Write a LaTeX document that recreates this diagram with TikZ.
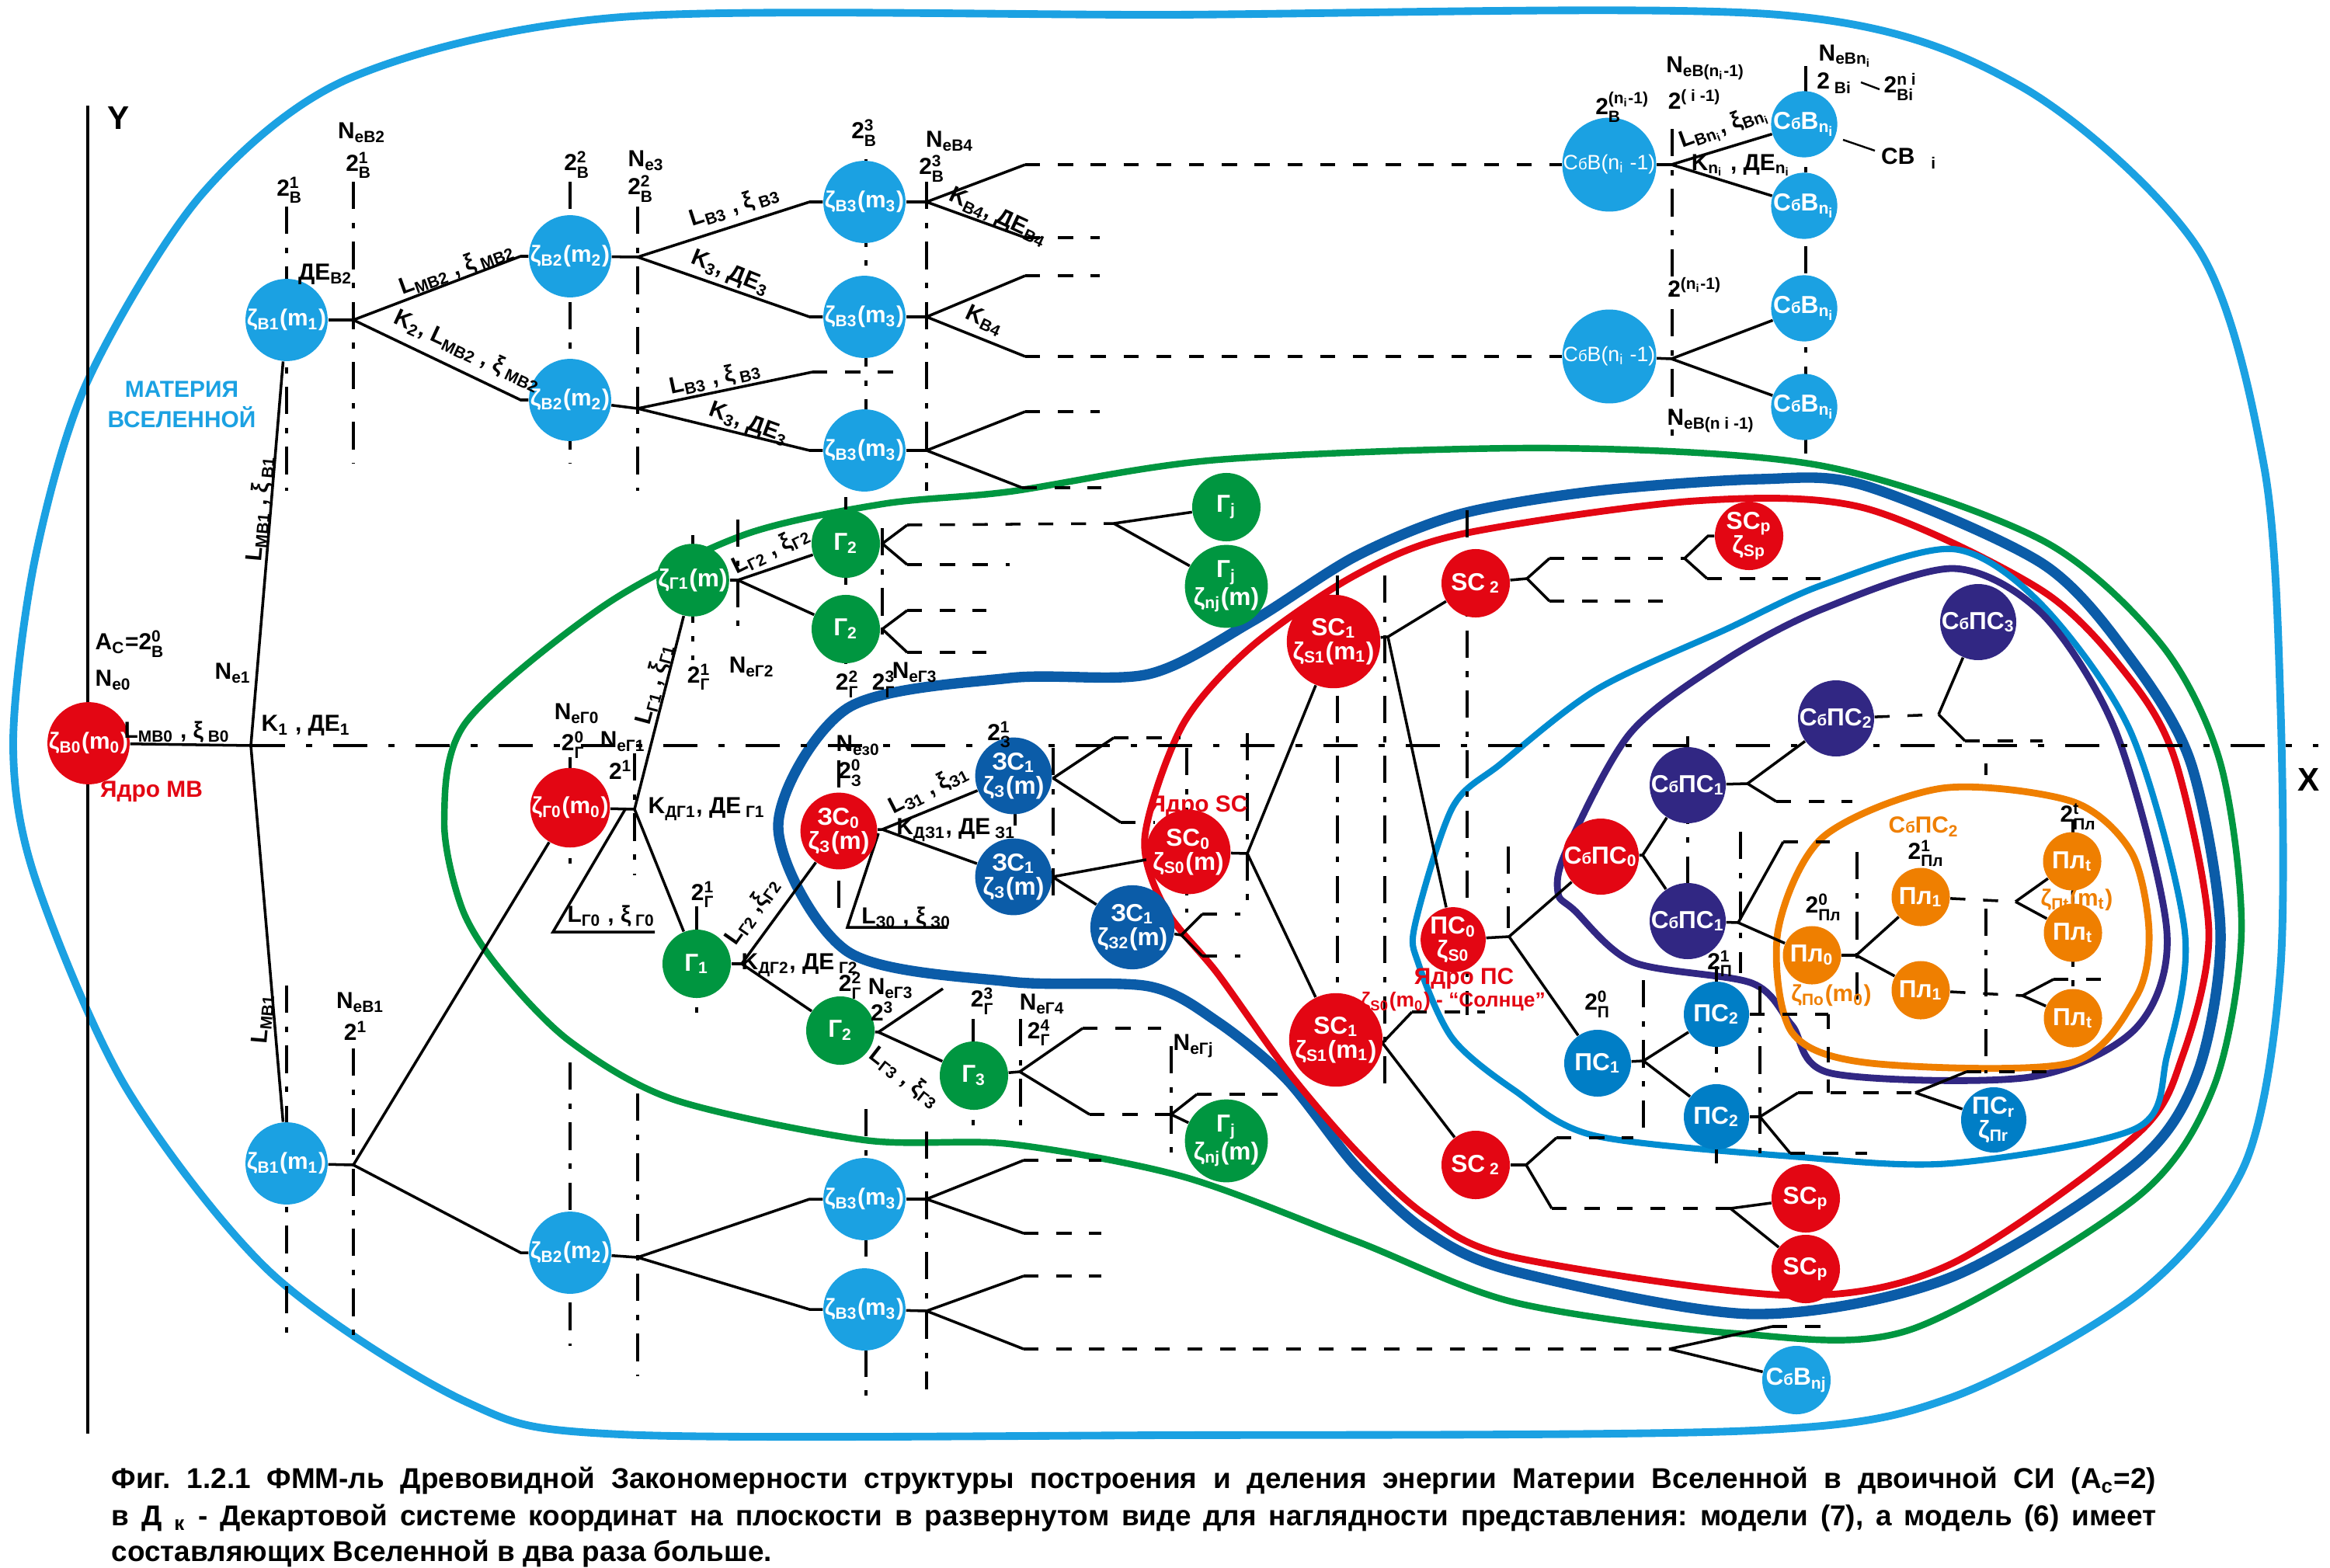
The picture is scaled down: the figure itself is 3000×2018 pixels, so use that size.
\documentclass[tikz,border=0pt]{standalone}
\usepackage{fontspec}
\setmainfont{Liberation Sans}
\usepackage{amsmath}
\usetikzlibrary{calc}
\definecolor{cB}{RGB}{27,161,226}
\definecolor{cR}{RGB}{227,6,19}
\definecolor{cG}{RGB}{0,150,64}
\definecolor{cD}{RGB}{11,92,168}
\definecolor{cM}{RGB}{0,126,198}
\definecolor{cP}{RGB}{49,39,131}
\definecolor{cO}{RGB}{239,127,0}
\definecolor{cL}{RGB}{0,140,208}
\newcommand{\Ls}[1]{\ensuremath{_{\text{#1}}}}
\newcommand{\Us}[1]{\ensuremath{^{\text{#1}}}}
\newcommand{\LU}[2]{\ensuremath{^{\text{#1}}_{\text{#2}}}}
\newcommand{\sm}[1]{{\fontsize{5.8}{6}\selectfont #1}}
\pgfdeclarelayer{curves}
\pgfdeclarelayer{lines}
\pgfsetlayers{curves,lines,main}
\tikzset{
  lab/.style={inner sep=0pt, font=\fontsize{8.5}{10}\selectfont\bfseries},
  cn/.style={circle, inner sep=0pt, text=white, align=center, font=\fontsize{9}{8.8}\selectfont\bfseries},
  big/.style={cn, minimum size=1cm, font=\fontsize{8.5}{8.5}\selectfont\bfseries},
  med/.style={cn, minimum size=0.88cm},
  sml/.style={cn, minimum size=0.75cm},
  ln/.style={line width=1pt},
  dsh/.style={line width=1pt, dash pattern=on 5.5pt off 6.5pt},
  vdd/.style={line width=1.1pt, dash pattern=on 10pt off 5pt on 2pt off 5pt},
  xax/.style={line width=1.1pt, dash pattern=on 12.5pt off 7.7pt on 2.3pt off 7.7pt},
  capt/.style={anchor=west, inner sep=0pt, font=\fontsize{10.5}{12}\selectfont\bfseries},
}
\begin{document}
\begin{tikzpicture}[x=0.01cm,y=-0.01cm]
\useasboundingbox (0,0) rectangle (3000,2018);
% ---------------- coordinates ----------------
\coordinate (J0) at (323,960);
\coordinate (XE) at (2985,960);
\coordinate (YT) at (113,136);
\coordinate (YB) at (113,1846);
\coordinate (J1) at (455,412);
\coordinate (J2a) at (821,331);
\coordinate (J2b) at (821,526);
\coordinate (E2b) at (1046,479);
\coordinate (J3a) at (1193,260);
\coordinate (J3b) at (1193,408);
\coordinate (J3c) at (1193,580);
\coordinate (E3a1) at (1320,212);
\coordinate (E3a2) at (1320,306);
\coordinate (E3b1) at (1320,355);
\coordinate (E3b2) at (1320,459);
\coordinate (E3c1) at (1320,530);
\coordinate (E3c2) at (1316,628);
\coordinate (J4) at (455,1500);
\coordinate (J5) at (821,1619);
\coordinate (J6) at (1193,1544);
\coordinate (J7) at (1193,1688);
\coordinate (E6a) at (1318,1494);
\coordinate (E6b) at (1318,1588);
\coordinate (E7a) at (1318,1643);
\coordinate (E7b) at (1318,1737);
\coordinate (J8) at (2149,1737);
\coordinate (E8) at (2282,1708);
\coordinate (JG0) at (817,1042);
\coordinate (T0a) at (805,1042);
\coordinate (T0b) at (712,1200);
\coordinate (T0c) at (843,1200);
\coordinate (JG1) at (950,747);
\coordinate (JG2a) at (1136,700);
\coordinate (JG2b) at (1136,810);
\coordinate (EGa1) at (1168,676);
\coordinate (EGa2) at (1168,727);
\coordinate (EGb1) at (1168,786);
\coordinate (EGb2) at (1168,840);
\coordinate (JGja) at (1434,674);
\coordinate (JG1b) at (955,1241);
\coordinate (JG2c) at (1131,1329);
\coordinate (EG2c) at (1214,1273);
\coordinate (JG3) at (1313,1380);
\coordinate (EG3a) at (1394,1324);
\coordinate (EG3b) at (1403,1435);
\coordinate (JGj) at (1508,1435);
\coordinate (EGj) at (1541,1409);
\coordinate (JZ0) at (1136,1068);
\coordinate (TZa) at (1131,1073);
\coordinate (TZb) at (1091,1194);
\coordinate (TZc) at (1220,1194);
\coordinate (JZ1) at (1356,1002);
\coordinate (EZ1a) at (1434,950);
\coordinate (EZ1b) at (1443,1059);
\coordinate (JZ2) at (1521,1204);
\coordinate (EZ2a) at (1548,1177);
\coordinate (EZ2b) at (1548,1231);
\coordinate (JS0) at (1606,1099);
\coordinate (JS1) at (1787,820);
\coordinate (JS2) at (1966,745);
\coordinate (ES2a) at (1995,719);
\coordinate (ES2b) at (1995,774);
\coordinate (JSp) at (2169,719);
\coordinate (ESp) at (2198,745);
\coordinate (JS1l) at (1780,1343);
\coordinate (ES1l) at (1818,1303);
\coordinate (JS2l) at (1965,1500);
\coordinate (ES2la) at (2004,1465);
\coordinate (ES2lb) at (1998,1556);
\coordinate (JSpp) at (2228,1556);
\coordinate (JP0) at (1943,1206);
\coordinate (JP1) at (2116,1366);
\coordinate (JP2) at (2266,1438);
\coordinate (EP2a) at (2354,1306);
\coordinate (EP2v) at (2354,1407);
\coordinate (EP2b) at (2315,1407);
\coordinate (EP2c) at (2305,1485);
\coordinate (JPr) at (2466,1407);
\coordinate (EPr) at (2532,1380);
\coordinate (JC0) at (2115,1101);
\coordinate (JC1) at (2250,1009);
\coordinate (EC1) at (2287,1032);
\coordinate (JC2) at (2496,920);
\coordinate (EC2) at (2530,954);
\coordinate (JC1l) at (2238,1188);
\coordinate (EC1l) at (2296,1084);
\coordinate (JL0) at (2390,1230);
\coordinate (JLt) at (2595,1161);
\coordinate (JLt2) at (2604,1282);
\coordinate (ELt) at (2644,1261);
\coordinate (JCB1) at (2152,212);
\coordinate (JCB2) at (2152,462);
\coordinate (CBi1) at (2373,180);
\coordinate (CBi2) at (2414,194);
% ---------------- nodes ----------------
\node[big,fill=cR] (B0) at (114,957) {ζ\Ls{В0}(m\Ls{0})};
\node[big,fill=cB] (B1u) at (369,412) {ζ\Ls{В1}(m\Ls{1})};
\node[big,fill=cB] (B1l) at (369,1498) {ζ\Ls{В1}(m\Ls{1})};
\node[big,fill=cB] (B2u) at (734,330) {ζ\Ls{В2}(m\Ls{2})};
\node[big,fill=cB] (B2m) at (734,515) {ζ\Ls{В2}(m\Ls{2})};
\node[big,fill=cB] (B2l) at (734,1613) {ζ\Ls{В2}(m\Ls{2})};
\node[big,fill=cB] (B3a) at (1113,260) {ζ\Ls{В3}(m\Ls{3})};
\node[big,fill=cB] (B3b) at (1113,408) {ζ\Ls{В3}(m\Ls{3})};
\node[big,fill=cB] (B3c) at (1113,580) {ζ\Ls{В3}(m\Ls{3})};
\node[big,fill=cB] (B3d) at (1113,1544) {ζ\Ls{В3}(m\Ls{3})};
\node[big,fill=cB] (B3e) at (1113,1686) {ζ\Ls{В3}(m\Ls{3})};
\node[big,fill=cB,font=\fontsize{7.6}{7.6}\selectfont] (CBu) at (2072,212) {С\sm{б}В(n\Ls{i} -1)};
\node[big,fill=cB,font=\fontsize{7.6}{7.6}\selectfont] (CBl) at (2072,459) {С\sm{б}В(n\Ls{i} -1)};
\node[med,fill=cB,minimum size=0.85cm] (Ca) at (2323,160) {С\sm{б}В\Ls{n\Ls{i}}};
\node[med,fill=cB,minimum size=0.85cm] (Cb) at (2323,265) {С\sm{б}В\Ls{n\Ls{i}}};
\node[med,fill=cB,minimum size=0.85cm] (Cc) at (2323,397) {С\sm{б}В\Ls{n\Ls{i}}};
\node[med,fill=cB,minimum size=0.85cm] (Cd) at (2323,524) {С\sm{б}В\Ls{n\Ls{i}}};
\node[med,fill=cB] (Cnj) at (2313,1777) {С\sm{б}В\Ls{nj}};
% red
\node[big,fill=cR] (G0) at (734,1040) {ζ\Ls{Г0}(m\Ls{0})};
\node[med,fill=cR,minimum size=0.84cm] (Z0) at (1080,1070) {ЗС\Ls{0}\\ζ\Ls{З}(m)};
\node[med,fill=cR] (S0) at (1530,1097) {SC\Ls{0}\\ζ\Ls{S0}(m)};
\node[med,fill=cR] (S1u) at (1717,826) {SC\Ls{1}\\ζ\Ls{S1}(m\Ls{1})};
\node[med,fill=cR] (S1l) at (1720,1339) {SC\Ls{1}\\ζ\Ls{S1}(m\Ls{1})};
\node[med,fill=cR] (S2u) at (1900,751) {SC\Ls{ 2}};
\node[med,fill=cR] (S2l) at (1900,1500) {SC\Ls{ 2}};
\node[med,fill=cR] (Spz) at (2252,690) {SC\Ls{p}\\ζ\Ls{Sp}};
\node[med,fill=cR] (Spa) at (2325,1543) {SC\Ls{p}};
\node[med,fill=cR] (Spb) at (2325,1634) {SC\Ls{p}};
\node[med,fill=cR,minimum size=0.8cm] (P0) at (1871,1210) {ПС\Ls{0}\\ζ\Ls{S0}};
\node[med,fill=cR] (CP0) at (2061,1103) {С\sm{б}ПС\Ls{0}};
% green
\node[med,fill=cG] (G1z) at (892,747) {ζ\Ls{Г1}(m)};
\node[med,fill=cG] (G2a) at (1089,700) {Г\Ls{2}};
\node[med,fill=cG] (G2b) at (1089,810) {Г\Ls{2}};
\node[med,fill=cG] (G1) at (897,1241) {Г\Ls{1}};
\node[med,fill=cG] (G2c) at (1082,1327) {Г\Ls{2}};
\node[med,fill=cG] (G3) at (1254,1385) {Г\Ls{3}};
\node[med,fill=cG] (Gja) at (1579,653) {Г\Ls{j}};
\node[med,fill=cG] (Gjb) at (1579,755) {Г\Ls{j}\\ζ\Ls{nj}(m)};
\node[med,fill=cG] (Gjc) at (1579,1469) {Г\Ls{j}\\ζ\Ls{nj}(m)};
% dark blue
\node[med,fill=cD] (Z1a) at (1305,999) {ЗС\Ls{1}\\ζ\Ls{З}(m)};
\node[med,fill=cD] (Z1b) at (1305,1129) {ЗС\Ls{1}\\ζ\Ls{З}(m)};
\node[med,fill=cD] (Z1c) at (1458,1194) {ЗС\Ls{1}\\ζ\Ls{З2}(m)};
% purple
\node[med,fill=cP] (CP1a) at (2173,1011) {С\sm{б}ПС\Ls{1}};
\node[med,fill=cP] (CP1b) at (2173,1186) {С\sm{б}ПС\Ls{1}};
\node[med,fill=cP] (CP2) at (2364,925) {С\sm{б}ПС\Ls{2}};
\node[med,fill=cP] (CP3) at (2547,801) {С\sm{б}ПС\Ls{3}};
% medium blue
\node[med,fill=cM,minimum size=0.86cm] (P1) at (2057,1369) {ПС\Ls{1}};
\node[med,fill=cM,minimum size=0.84cm] (P2a) at (2210,1306) {ПС\Ls{2}};
\node[med,fill=cM,minimum size=0.84cm] (P2b) at (2210,1438) {ПС\Ls{2}};
\node[med,fill=cM,minimum size=0.84cm] (Pr) at (2567,1442) {ПС\Ls{r}\\ζ\Ls{Пr}};
% orange
\node[lab,text=cO] (tLt) at (2674,1159) {ζ\Ls{Пt}(m\Ls{t})};
\node[sml,fill=cO] (L0) at (2333,1230) {Пл\Ls{0}};
\node[sml,fill=cO] (L1a) at (2473,1155) {Пл\Ls{1}};
\node[sml,fill=cO] (L1b) at (2473,1275) {Пл\Ls{1}};
\node[sml,fill=cO] (Lta) at (2668,1109) {Пл\Ls{t}};
\node[sml,fill=cO] (Ltb) at (2669,1201) {Пл\Ls{t}};
\node[sml,fill=cO] (Ltc) at (2669,1311) {Пл\Ls{t}};
% ---------------- curves ----------------
\begin{pgfonlayer}{curves}
\fill[white] (0,0) rectangle (3000,2018);
\draw[cB, line width=2.8pt] plot[smooth cycle] coordinates {(1500,19) (2290,19) (2600,110) (2830,320) (2915,600) (2936,900) (2936,1250) (2890,1500) (2755,1665) (2511,1800) (2256,1842) (1500,1848) (800,1847) (600,1805) (350,1640) (162,1400) (45,1130) (17,957) (45,720) (113,490) (260,250) (452,100) (800,22)};
\draw[cG, line width=2.4pt] plot[smooth cycle] coordinates {(572,1057) (600,930) (779,779) (957,689) (1136,649) (1300,633) (1568,592) (2000,577) (2347,600) (2630,696) (2783,830) (2859,983) (2886,1200) (2850,1400) (2750,1543) (2460,1712) (2236,1717) (1950,1677) (1746,1598) (1523,1515) (1300,1473) (1113,1468) (868,1416) (734,1341) (645,1250) (595,1170)};
\draw[cD, line width=3.8pt] plot[smooth cycle] coordinates {(1002,1064) (1091,912) (1300,873) (1479,868) (1612,800) (1746,716) (1880,662) (2057,632) (2265,617) (2400,625) (2630,726) (2744,849) (2821,983) (2859,1200) (2830,1380) (2750,1498) (2511,1645) (2256,1692) (1950,1637) (1836,1585) (1746,1502) (1657,1390) (1568,1316) (1479,1270) (1300,1264) (1091,1225)};
\draw[cR, line width=2.5pt] plot[smooth cycle] coordinates {(1474,1078) (1523,933) (1612,832) (1746,740) (1880,688) (2182,645) (2400,654) (2630,761) (2744,876) (2802,983) (2844,1200) (2810,1360) (2750,1462) (2511,1628) (2307,1668) (1950,1619) (1836,1565) (1746,1482) (1657,1378) (1568,1254) (1501,1171)};
\draw[cL, line width=2.3pt] plot[smooth cycle] coordinates {(1822,1190) (1870,1040) (1933,983) (2057,887) (2223,810) (2347,753) (2515,707) (2630,780) (2744,944) (2813,1200) (2790,1360) (2750,1453) (2511,1498) (2307,1489) (2052,1462) (1950,1404) (1870,1337) (1826,1240)};
\draw[cP, line width=2.5pt] plot[smooth cycle] coordinates {(2006,1150) (2016,1097) (2099,944) (2223,849) (2347,784) (2515,732) (2630,791) (2725,944) (2790,1200) (2750,1324) (2613,1387) (2358,1382) (2307,1320) (2256,1266) (2103,1239) (2027,1172)};
\draw[cO, line width=2.5pt] plot[smooth cycle] coordinates {(2289,1200) (2347,1078) (2500,1015) (2668,1032) (2744,1097) (2767,1200) (2750,1284) (2664,1369) (2409,1369) (2307,1329)};
\end{pgfonlayer}
% ---------------- lines ----------------
\begin{pgfonlayer}{lines}
\draw[line width=1.2pt] (YT) -- (YB);
\draw[xax] (J0) -- (XE);
\foreach \xa/\ya/\yb in {369/266/632, 455/234/597, 734/234/597, 821/266/632, 1115/205/643, 1193/234/632,
  369/1269/1722, 455/1350/1731, 734/1368/1733, 821/1408/1772, 1115/1428/1797, 1193/1457/1789,
  734/975/1127, 817/970/1127, 892/689/850, 950/669/823, 1089/640/855, 1136/680/832, 897/1167/1320,
  1253/1312/1461, 1314/1312/1465, 1508/1347/1500, 1080/979/1174, 1307/950/1180, 1356/963/1170,
  1528/963/1175, 1606/944/1160, 1722/741/1388, 1783/741/1399, 1889/657/1307, 1942/1090/1195,
  2116/1262/1467, 2210/1244/1498, 2266/1270/1498, 2173/948/1143, 2241/1071/1253, 2391/1097/1297,
  2557/983/998, 2557/1170/1382, 2153/166/561, 2325/85/589, 2669/1055/1320}
  \draw[vdd] (\xa,\ya) -- (\xa,\yb);
% upper B tree
\draw[ln] (B0) -- (J0);
\draw[ln] (J0) -- (B1u);
\draw[ln] (J0) -- (B1l);
\draw[ln] (B1u) -- (J1);
\draw[ln] (J1) -- ([xshift=-1mm]B2u.west) -- (B2u);
\draw[ln] (J1) -- ([xshift=-1mm]B2m.west) -- (B2m);
\draw[ln] (B2u) -- (J2a);
\draw[ln] (J2a) -- ([xshift=-1.7mm]B3a.west) -- (B3a);
\draw[ln] (J2a) -- ([xshift=-1.7mm]B3b.west) -- (B3b);
\draw[ln] (B2m) -- (J2b);
\draw[ln] (J2b) -- (E2b); \draw[dsh] (E2b) -- ++(104,0);
\draw[ln] (J2b) -- ([xshift=-1.7mm]B3c.west) -- (B3c);
\draw[ln] (B3a) -- (J3a);
\draw[ln] (J3a) -- (E3a1); \draw[dsh] (E3a1) -- (CBu);
\draw[ln] (J3a) -- (E3a2); \draw[dsh] (E3a2) -- ++(96,0);
\draw[ln] (B3b) -- (J3b);
\draw[ln] (J3b) -- (E3b1); \draw[dsh] (E3b1) -- ++(96,0);
\draw[ln] (J3b) -- (E3b2); \draw[dsh] (E3b2) -- (CBl);
\draw[ln] (B3c) -- (J3c);
\draw[ln] (J3c) -- (E3c1); \draw[dsh] (E3c1) -- ++(96,0);
\draw[ln] (J3c) -- (E3c2); \draw[dsh] (E3c2) -- ++(102,0);
% lower B tree
\draw[ln] (B1l) -- (J4);
\draw[ln] (J4) -- (G0);
\draw[ln] (J4) -- ([xshift=-1mm]B2l.west) -- (B2l);
\draw[ln] (B2l) -- (J5);
\draw[ln] (J5) -- ([xshift=-1.7mm]B3d.west) -- (B3d);
\draw[ln] (J5) -- ([xshift=-1.7mm]B3e.west) -- (B3e);
\draw[ln] (B3d) -- (J6);
\draw[ln] (J6) -- (E6a); \draw[dsh] (E6a) -- ++(100,0);
\draw[ln] (J6) -- (E6b); \draw[dsh] (E6b) -- ++(100,0);
\draw[ln] (B3e) -- (J7);
\draw[ln] (J7) -- (E7a); \draw[dsh] (E7a) -- ++(100,0);
\draw[ln] (J7) -- (E7b); \draw[dsh] (E7b) -- (J8);
\draw[ln] (J8) -- (E8); \draw[dsh] (E8) -- ++(76,0);
\draw[ln] (J8) -- (Cnj);
% top right B tree
\draw[ln] (CBu) -- (JCB1);
\draw[ln] (JCB1) -- (Ca);
\draw[ln] (JCB1) -- (Cb);
\draw[ln] (CBl) -- (JCB2);
\draw[ln] (JCB2) -- (Cc);
\draw[ln] (JCB2) -- (Cd);
\draw[line width=0.7pt] (CBi1) -- (CBi2);
\draw[line width=0.7pt] (2396,106) -- (2420,115);
% green tree
\draw[ln] (G0) -- (JG0);
\draw[ln] (T0a) -- (T0b) -- (T0c);
\draw[ln] (JG0) -- (G1z);
\draw[ln] (JG0) -- (G1);
\draw[ln] (G1z) -- (JG1);
\draw[ln] (JG1) -- (G2a);
\draw[ln] (JG1) -- (G2b);
\draw[ln] (G2a) -- (JG2a);
\draw[ln] (JG2a) -- (EGa1); \draw[dsh] (EGa1) -- (JGja);
\draw[ln] (JGja) -- (Gja);
\draw[ln] (JGja) -- (Gjb);
\draw[ln] (JG2a) -- (EGa2); \draw[dsh] (EGa2) -- ++(132,0);
\draw[ln] (G2b) -- (JG2b);
\draw[ln] (JG2b) -- (EGb1); \draw[dsh] (EGb1) -- ++(102,0);
\draw[ln] (JG2b) -- (EGb2); \draw[dsh] (EGb2) -- ++(102,0);
\draw[ln] (G1) -- (JG1b);
\draw[ln] (JG1b) -- (Z0);
\draw[ln] (JG1b) -- (G2c);
\draw[ln] (G2c) -- (JG2c);
\draw[ln] (JG2c) -- (EG2c);
\draw[ln] (JG2c) -- (G3);
\draw[ln] (G3) -- (JG3);
\draw[ln] (JG3) -- (EG3a); \draw[dsh] (EG3a) -- ++(101,0);
\draw[ln] (JG3) -- (EG3b); \draw[dsh] (EG3b) -- (JGj);
\draw[ln] (JGj) -- (EGj); \draw[dsh] (EGj) -- ++(104,0);
\draw[ln] (JGj) -- (Gjc);
% Z tree
\draw[ln] (Z0) -- (JZ0);
\draw[ln] (TZa) -- (TZb) -- (TZc);
\draw[ln] (JZ0) -- (Z1a);
\draw[ln] (JZ0) -- (Z1b);
\draw[ln] (Z1a) -- (JZ1);
\draw[ln] (JZ1) -- (EZ1a); \draw[dsh] (EZ1a) -- ++(86,0);
\draw[ln] (JZ1) -- (EZ1b); \draw[dsh] (EZ1b) -- ++(44,0);
\draw[ln] (Z1b.east) -- (S0);
\draw[ln] (Z1b.east) -- (Z1c);
\draw[ln] (Z1c) -- (JZ2);
\draw[ln] (JZ2) -- (EZ2a); \draw[dsh] (EZ2a) -- ++(49,0);
\draw[ln] (JZ2) -- (EZ2b); \draw[dsh] (EZ2b) -- ++(49,0);
% SC tree
\draw[ln] (S0) -- (JS0);
\draw[ln] (JS0) -- (S1u);
\draw[ln] (JS0) -- (S1l);
\draw[ln] (S1u) -- (JS1);
\draw[ln] (JS1) -- (S2u);
\draw[ln] (JS1) -- (P0);
\draw[ln] (S2u) -- (JS2);
\draw[ln] (JS2) -- (ES2a); \draw[dsh] (ES2a) -- (JSp);
\draw[ln] (JSp) -- ([xshift=-0.8mm]Spz.west) -- (Spz.west);
\draw[ln] (JSp) -- (ESp); \draw[dsh] (ESp) -- ++(150,0);
\draw[ln] (JS2) -- (ES2b); \draw[dsh] (ES2b) -- ++(151,0);
\draw[ln] (S1l) -- (JS1l);
\draw[ln] (JS1l) -- (ES1l); \draw[dsh] (ES1l) -- ++(94,0);
\draw[ln] (JS1l) -- (S2l);
\draw[ln] (S2l) -- (JS2l);
\draw[ln] (JS2l) -- (ES2la); \draw[dsh] (ES2la) -- ++(99,0);
\draw[ln] (JS2l) -- (ES2lb); \draw[dsh] (ES2lb) -- (JSpp);
\draw[ln] (JSpp) -- (Spa);
\draw[ln] (JSpp) -- (Spb);
% PS tree
\draw[ln] (P0) -- (JP0);
\draw[ln] (JP0) -- (CP0);
\draw[ln] (JP0) -- (P1);
\draw[ln] (P1) -- (JP1);
\draw[ln] (JP1) -- (P2a);
\draw[ln] (JP1) -- (P2b);
\draw[dsh] (P2a) -- (EP2a);
\draw[dsh] (EP2a) -- (EP2v);
\draw[ln] (P2b) -- (JP2);
\draw[ln] (JP2) -- (EP2b); \draw[dsh] (EP2b) -- (JPr);
\draw[ln] (JPr) -- (EPr); \draw[dsh] (EPr) -- ++(103,0);
\draw[ln] (JPr) -- (Pr);
\draw[ln] (JP2) -- (EP2c); \draw[dsh] (EP2c) -- ++(99,0);
% CbPS tree
\draw[ln] (CP0) -- (JC0);
\draw[ln] (JC0) -- (CP1a);
\draw[ln] (JC0) -- (CP1b);
\draw[ln] (CP1a) -- (JC1);
\draw[ln] (JC1) -- (CP2);
\draw[ln] (JC1) -- (EC1); \draw[dsh] (EC1) -- ++(98,0);
\draw[dsh] (CP2) -- (JC2);
\draw[ln] (JC2) -- (CP3);
\draw[ln] (JC2) -- (EC2); \draw[dsh] (EC2) -- ++(100,0);
\draw[ln] (CP1b) -- (JC1l);
\draw[ln] (JC1l) -- (EC1l); \draw[dsh] (EC1l) -- ++(60,0);
\draw[ln] (JC1l) -- (L0);
% Pl tree
\draw[ln] (L0) -- (JL0);
\draw[ln] (JL0) -- (L1a);
\draw[ln] (JL0) -- (L1b);
\draw[dsh] (L1a) -- (JLt);
\draw[ln] (JLt) -- (Lta);
\draw[ln] (JLt) -- (Ltb);
\draw[ln] (Lta) -- (Ltb);
\draw[dsh] (L1b) -- (JLt2);
\draw[ln] (JLt2) -- (ELt); \draw[dsh] (ELt) -- ++(61,0);
\draw[ln] (JLt2) -- (Ltc);
\end{pgfonlayer}
% ---------------- labels ----------------
\node[lab,font=\fontsize{12}{12}\selectfont\bfseries] (tY) at (153,152) {Y};
\node[lab,font=\fontsize{12}{12}\selectfont\bfseries] (tX) at (2973,1004) {X};
\node[lab] at (373,245) {2\LU{1}{В}};
\node[lab] at (466,171) {N\Ls{еВ2}};
\node[lab] at (462,213) {2\LU{1}{В}};
\node[lab] at (419,353) {ДЕ\Ls{В2}};
\node[lab,rotate=20] at (588,346) {L\Ls{МВ2} , ξ\Ls{ МВ2}};
\node[lab,rotate=-25] at (602,452) {K\Ls{2}, L\Ls{МВ2} , ξ\Ls{ МВ2}};
\node[lab,text=cB,align=center,font=\fontsize{8.5}{11}\selectfont\bfseries] at (234,521) {МАТЕРИЯ\\ВСЕЛЕННОЙ};
\node[lab,rotate=85] at (335,655) {L\Ls{МВ1} , ξ\Ls{ В1}};
\node[lab,anchor=west] at (122,829) {A\Ls{C}=2\LU{0}{В}};
\node[lab,anchor=west] at (122,876) {N\Ls{е0}};
\node[lab] at (300,867) {N\Ls{е1}};
\node[lab] at (228,943) {L\Ls{МВ0} , ξ\Ls{ В0}};
\node[lab] at (394,934) {K\Ls{1} , ДЕ\Ls{1}};
\node[lab,text=cR] at (195,1019) {Ядро МВ};
\node[lab,rotate=85] at (338,1312) {L\Ls{МВ1}};
\node[lab] at (464,1291) {N\Ls{еВ1}};
\node[lab] at (458,1327) {2\Us{1}};
\node[lab] at (743,212) {2\LU{2}{В}};
\node[lab] at (832,207) {N\Ls{е3}};
\node[lab] at (825,243) {2\LU{2}{В}};
\node[lab,rotate=18] at (946,266) {L\Ls{В3} , ξ\Ls{ В3}};
\node[lab,rotate=-22] at (940,352) {K\Ls{3}, ДЕ\Ls{3}};
\node[lab,rotate=12] at (921,487) {L\Ls{В3} , ξ\Ls{ В3}};
\node[lab,rotate=-20] at (964,546) {K\Ls{3}, ДЕ\Ls{3}};
\node[lab] at (1113,171) {2\LU{3}{В}};
\node[lab] at (1223,182) {N\Ls{еВ4}};
\node[lab] at (1200,217) {2\LU{3}{В}};
\node[lab,rotate=-25] at (1285,280) {K\Ls{В4}, ДЕ\Ls{В4}};
\node[lab,rotate=-25] at (1268,413) {K\Ls{В4}};
\node[lab] at (743,919) {N\Ls{еГ0}};
\node[lab] at (738,959) {2\LU{0}{Г}};
\node[lab] at (802,955) {N\Ls{еГ1}};
\node[lab] at (799,991) {2\Us{1}};
\node[lab,rotate=75] at (843,881) {L\Ls{Г1} , ξ\Ls{Г1}};
\node[lab] at (900,872) {2\LU{1}{Г}};
\node[lab,anchor=west] at (834,1042) {K\Ls{ДГ1}, ДЕ\Ls{ Г1}};
\node[lab] at (787,1180) {L\Ls{Г0} , ξ\Ls{ Г0}};
\node[lab,rotate=26] at (993,709) {L\Ls{Г2} , ξ\Ls{Г2}};
\node[lab] at (968,859) {N\Ls{еГ2}};
\node[lab] at (1091,881) {2\LU{2}{Г}};
\node[lab] at (1138,881) {2\LU{3}{Г}};
\node[lab] at (1178,866) {N\Ls{еГ3}};
\node[lab] at (1105,960) {N\Ls{ез0}};
\node[lab] at (1095,995) {2\LU{0}{З}};
\node[lab,rotate=27] at (1196,1017) {L\Ls{З1} , ξ\Ls{З1}};
\node[lab] at (1231,1069) {K\Ls{ДЗ1}, ДЕ\Ls{ З1}};
\node[lab] at (1167,1182) {L\Ls{З0} , ξ\Ls{ З0}};
\node[lab] at (1287,946) {2\LU{1}{З}};
\node[lab] at (905,1152) {2\LU{1}{Г}};
\node[lab,rotate=55] at (969,1174) {L\Ls{Г2} ,ξ\Ls{Г2}};
\node[lab] at (1030,1243) {K\Ls{ДГ2}, ДЕ\Ls{ Г2}};
\node[lab] at (1095,1269) {2\LU{2}{Г}};
\node[lab] at (1147,1273) {N\Ls{еГ3}};
\node[lab] at (1136,1302) {2\Us{3}};
\node[lab,rotate=-38] at (1165,1388) {L\Ls{Г3} , ξ\Ls{Г3}};
\node[lab] at (1265,1289) {2\LU{3}{Г}};
\node[lab] at (1342,1293) {N\Ls{еГ4}};
\node[lab] at (1338,1330) {2\LU{4}{Г}};
\node[lab] at (1537,1347) {N\Ls{еГj}};
\node[lab,text=cR] at (1543,1038) {Ядро SC};
\node[lab,text=cR] at (1885,1260) {Ядро ПС};
\node[lab,text=cR,font=\fontsize{7.5}{8}\selectfont\bfseries] at (1871,1290) {ζ\Ls{S0}(m\Ls{0}) - “Солнце”};
\node[lab] at (2089,138) {2\LU{(n\Ls{i}-1)}{В}};
\node[lab] at (2196,88) {N\Ls{еВ(n\Ls{i}-1)}};
\node[lab] at (2182,128) {2\Us{( i -1)}};
\node[lab,rotate=20] at (2220,164) {L\Ls{Вn\Ls{i}}, ξ\Ls{Вn\Ls{i}}};
\node[lab] at (2242,213) {K\Ls{n\Ls{i}} , ДЕ\Ls{n\Ls{i}}};
\node[lab] at (2376,72) {N\Ls{еВn\Ls{i}}};
\node[lab] at (2362,107) {2\Ls{ Вi}};
\node[lab] at (2447,112) {2\LU{n i}{Вi}};
\node[lab] at (2458,204) {CB\Ls{\quad i}};
\node[lab] at (2182,370) {2\Us{(n\Ls{i}-1)}};
\node[lab] at (2203,542) {N\Ls{еВ(n i -1)}};
\node[lab,text=cO] at (2477,1065) {С\sm{б}ПС\Ls{2}};
\node[lab] at (2480,1099) {2\LU{1}{Пл}};
\node[lab] at (2676,1052) {2\LU{t}{Пл}};
\node[lab] at (2348,1168) {2\LU{0}{Пл}};
\node[lab,text=cO] at (2358,1282) {ζ\Ls{По}(m\Ls{0})};
\node[lab] at (2057,1293) {2\LU{0}{П}};
\node[lab] at (2215,1241) {2\LU{1}{П}};
% ---------------- caption ----------------
\node[capt] (cap1) at (143,1907) {\frenchspacing\makebox[26.31cm][s]{Фиг. 1.2.1 ФММ-ль Древовидной Закономерности структуры построения и деления энергии Материи Вселенной в двоичной СИ (A\Ls{c}=2)}};
\node[capt] (cap2) at (143,1955) {\frenchspacing\makebox[26.31cm][s]{в Д \Ls{к} - Декартовой системе координат на плоскости в развернутом виде для наглядности представления: модели (7), а модель (6) имеет}};
\node[capt] (cap3) at (143,2001) {\frenchspacing составляющих Вселенной в два раза больше.};
\end{tikzpicture}
\end{document}
